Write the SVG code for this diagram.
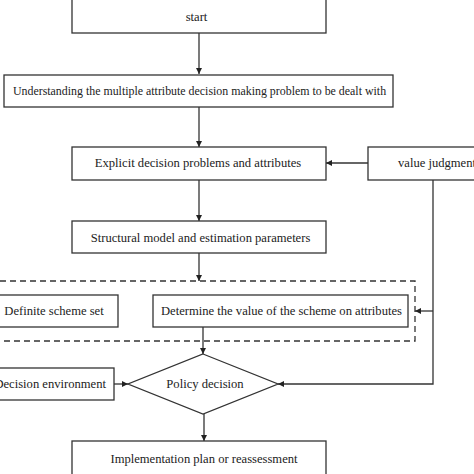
<svg xmlns="http://www.w3.org/2000/svg" width="474" height="474" viewBox="0 0 474 474">
<style>
.box{fill:#fff;stroke:#333;stroke-width:1.3}
.dash{fill:none;stroke:#333;stroke-width:1.3;stroke-dasharray:6,4}
.ln{fill:none;stroke:#333;stroke-width:1.3}
text{font-family:"Liberation Serif","Times New Roman",serif;font-size:12.6px;fill:#222}
.c{text-anchor:middle}
</style>
<defs>
<marker id="ah" viewBox="0 0 10 10" refX="10" refY="5" markerWidth="6" markerHeight="6" markerUnits="userSpaceOnUse" orient="auto">
<path d="M0,0 L10,5 L0,10 z" fill="#222"/>
</marker>
</defs>
<rect width="474" height="474" fill="#fff"/>
<g id="connectors">
<line class="ln" x1="199" y1="33" x2="199" y2="74" marker-end="url(#ah)"/>
<line class="ln" x1="199" y1="107" x2="199" y2="147" marker-end="url(#ah)"/>
<line class="ln" x1="368" y1="163" x2="326" y2="163" marker-end="url(#ah)"/>
<line class="ln" x1="199" y1="180" x2="199" y2="221" marker-end="url(#ah)"/>
<line class="ln" x1="199" y1="253" x2="199" y2="281" marker-end="url(#ah)"/>
<polyline class="ln" points="433,180 433,384 278,384" marker-end="url(#ah)"/>
<line class="ln" x1="433" y1="311" x2="415" y2="311" marker-end="url(#ah)"/>
<line class="ln" x1="203" y1="327" x2="203" y2="354" marker-end="url(#ah)"/>
<line class="ln" x1="114" y1="384" x2="128" y2="384" marker-end="url(#ah)"/>
<line class="ln" x1="204" y1="414" x2="204" y2="441" marker-end="url(#ah)"/>
</g>
<g id="start">
<rect class="box" x="72" y="-2" width="254" height="35"/>
<text class="c" x="196.5" y="21">start</text>
</g>
<g id="understanding">
<rect class="box" x="4" y="75" width="389" height="32"/>
<text class="c" x="199.5" y="95" style="font-size:11.9px">Understanding the multiple attribute decision making problem to be dealt with</text>
</g>
<g id="explicit">
<rect class="box" x="72" y="147" width="254" height="33"/>
<text class="c" x="198" y="167">Explicit decision problems and attributes</text>
</g>
<g id="value">
<rect class="box" x="368" y="147" width="150" height="33"/>
<text x="398" y="167">value judgment</text>
</g>
<g id="structural">
<rect class="box" x="72" y="221" width="254" height="32"/>
<text class="c" x="200.5" y="242">Structural model and estimation parameters</text>
</g>
<g id="scheme-group">
<rect class="dash" x="-10" y="281" width="425" height="60"/>
</g>
<g id="definite">
<rect class="box" x="-10" y="295" width="128" height="32"/>
<text class="c" x="54" y="315">Definite scheme set</text>
</g>
<g id="determine">
<rect class="box" x="153" y="295" width="255" height="32"/>
<text class="c" x="281.5" y="315">Determine the value of the scheme on attributes</text>
</g>
<g id="environment">
<rect class="box" x="-10" y="368" width="124" height="32"/>
<text text-anchor="end" x="106" y="388">Decision environment</text>
</g>
<g id="policy">
<polygon class="box" points="203,354 278,384 203,414 128,384"/>
<text class="c" x="205" y="388">Policy decision</text>
</g>
<g id="implementation">
<rect class="box" x="72" y="441" width="254" height="40"/>
<text class="c" x="204" y="463">Implementation plan or reassessment</text>
</g>
</svg>
